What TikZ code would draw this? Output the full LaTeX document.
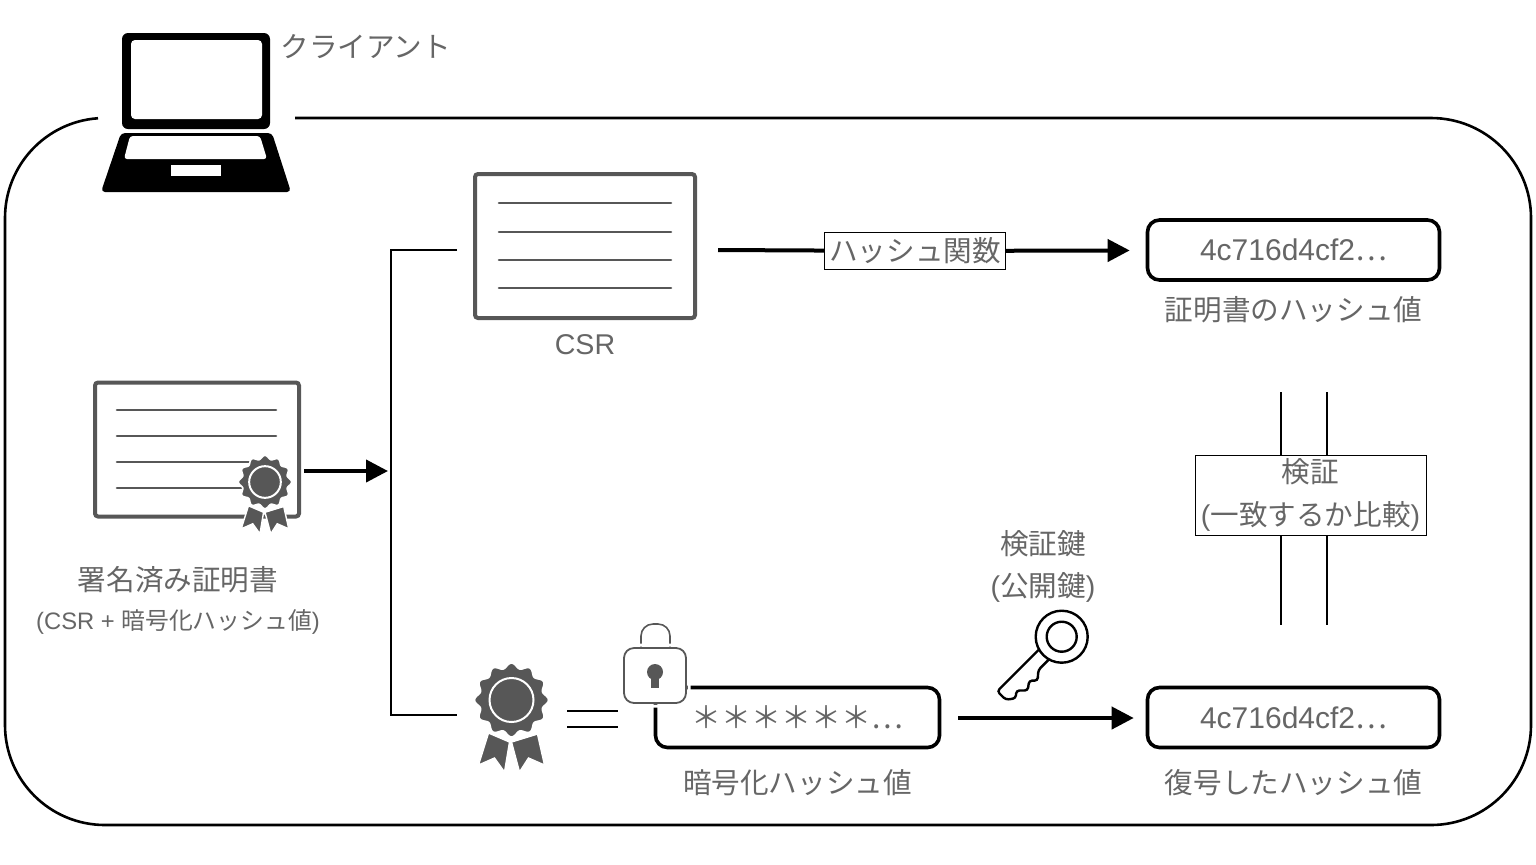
\documentclass[tikz,border=0pt]{standalone}
\usepackage{fontspec}
\setmainfont{Liberation Sans}
\newfontfamily\cjk{Noto Sans CJK JP}
\newcommand{\ja}[1]{{\cjk #1}}
\usepackage{xcolor}
\usepackage{tikz}
\usetikzlibrary{positioning,arrows.meta}
\definecolor{labelgray}{gray}{0.4}
\definecolor{icongray}{gray}{0.34}

% rosette, origin at the centre of the seal
\tikzset{sealicon/.pic={
    \fill[icongray, draw=white, line width=0.7pt] (-23,33) -- (-2,42) -- (-7,72) -- (-17,58) -- (-33,65) -- cycle;
    \fill[icongray, draw=white, line width=0.7pt] (26,34) -- (0,42) -- (8,72) -- (17,58) -- (33,65) -- cycle;
    \fill[icongray, draw=white, line width=0.8pt] plot[domain=0:360, samples=121] ({(34.5+2.5*cos(12*\x))*cos(\x)}, {(34.5+2.5*cos(12*\x))*sin(\x)}) -- cycle;
    \draw[white, line width=1pt] (0,0) circle [radius=22];
}}

\begin{document}
\begin{tikzpicture}[x=0.5pt, y=-0.5pt, >={Triangle[length=11pt,width=11pt]}]
    \tikzstyle{frame} = [black, line width=1.3pt]
    \tikzstyle{doc} = [draw=icongray, fill=white, line width=2pt, rounded corners=1.5pt]
    \tikzstyle{docline} = [icongray, line width=1.3pt, line cap=round]
    \tikzstyle{hashbox} = [draw, fill=white, line width=1.8pt, rounded corners=6pt, minimum width=146pt, minimum height=30pt, text=labelgray, font=\fontsize{15}{18}\selectfont]
    \tikzstyle{caption} = [text=labelgray, inner sep=0pt, font=\fontsize{14.3}{17}\selectfont]
    \tikzstyle{arrow} = [->, line width=2pt]
    \tikzstyle{bracket} = [black, line width=1.1pt]
    \tikzstyle{tag} = [draw, fill=white, line width=0.5pt, text=labelgray, inner sep=0pt, align=center, font=\fontsize{14.3}{21.5}\selectfont]

    % outer frame, open behind the laptop
    \coordinate (framestart) at (295,118);
    \draw[frame] (framestart) -- (1431,118) arc [start angle=-90, end angle=0, radius=100]
        -- (1531,725) arc [start angle=0, end angle=90, radius=100]
        -- (105,825) arc [start angle=90, end angle=180, radius=100]
        -- (5,218) arc [start angle=180, end angle=266, radius=100];

    % laptop
    \fill[black, rounded corners=3pt] (122,33) rectangle (270,129);
    \fill[white, rounded corners=2pt] (131,40) rectangle (262,119);
    \fill[black, rounded corners=2pt] (121,133) -- (272,133) -- (291,192) -- (101,192) -- cycle;
    \fill[white, rounded corners=1.5pt] (130,136) -- (260,136) -- (267,159) -- (124,159) -- cycle;
    \fill[white] (171,165) rectangle (221,176);
    \node[caption, anchor=west] (client) at (280,47) {\ja{クライアント}};

    % signed certificate
    \node[doc, minimum width=102pt, minimum height=67pt] (cert) at (197,449.5) {};
    \foreach \y in {410,436,462,488} \draw[docline] (117,\y) -- (276,\y);
    \pic[scale=0.72] at (265,482) {sealicon};
    \node[caption] (certname) at (178,580) {\ja{署名済み証明書}};
    \node[caption, font=\fontsize{11.9}{14}\selectfont] (certnote) at (178,622) {(CSR + \ja{暗号化ハッシュ値})};

    % CSR
    \node[doc, minimum width=110pt, minimum height=72pt] (csr) at (585,246) {};
    \foreach \y in {203,232,260,288} \draw[docline] (499,\y) -- (671,\y);
    \node[caption, below=7pt of csr] (csrname) {CSR};

    \node[hashbox] (hash) at (1293.5,250) {4c716d4cf2\ja{…}};
    \node[caption, below=7pt of hash] (hashname) {\ja{証明書のハッシュ値}};
    \node[draw, fill=white, line width=0.5pt, text=labelgray, inner sep=0pt, minimum width=90.5pt, minimum height=18.5pt, font=\fontsize{14.3}{17}\selectfont] (hashfn) at (915,251) {\ja{ハッシュ関数}};

    % seal = encrypted value
    \pic at (511.5,700) {sealicon};
    \draw[black, line width=1.2pt] (567,711) -- (618,711);
    \draw[black, line width=1.2pt] (567,727) -- (618,727);
    \node[hashbox, minimum width=142pt] (enc) at (797.5,717.5) {\ja{＊＊＊＊＊＊…}};
    \node[caption, below=10pt of enc] (encname) {\ja{暗号化ハッシュ値}};

    % lock
    \draw[icongray, line width=0.8pt, rounded corners=6pt] (641,650) -- (641,624) -- (670,624) -- (670,650);
    \draw[icongray, fill=white, line width=0.9pt, rounded corners=5pt] (624,648) rectangle (686,703);
    \draw[white, line width=1.5pt, rounded corners=6pt] (621,645) rectangle (689,706);
    \fill[icongray] (655,672) circle [radius=8];
    \fill[icongray] (651,672) rectangle (659,688);

    \node[hashbox] (dec) at (1293.5,717.5) {4c716d4cf2\ja{…}};
    \node[caption, below=10pt of dec] (decname) {\ja{復号したハッシュ値}};

    % key
    \begin{scope}[shift={(1061.7,636.7)}, x={(-0.354pt,-0.354pt)}, y={(0.354pt,-0.354pt)}]
        \draw[black, fill=white, line width=1.2pt, rounded corners=1.5pt] (20,-7) -- (84,-7) -- (84,5) -- (76,11) -- (70,6) -- (62,14) -- (54,8) -- (48,14) -- (40,7) -- (20,7) -- cycle;
    \end{scope}
    \draw[black, fill=white, line width=1.2pt] (1061.7,636.7) circle [radius=26];
    \draw[black, line width=1.2pt] (1061.7,636.7) circle [radius=15];
    \node[caption] (keyname) at (1043,544) {\ja{検証鍵}};
    \node[caption] (keynote) at (1043,587) {(\ja{公開鍵})};

    % verification
    \coordinate (railatop) at (1281,392);
    \coordinate (railabot) at (1281,625);
    \coordinate (railbtop) at (1327,392);
    \coordinate (railbbot) at (1327,625);
    \draw[bracket] (railatop) -- (railabot);
    \draw[bracket] (railbtop) -- (railbbot);
    \node[tag, minimum width=115.5pt, minimum height=40pt] (verify) at (1310.5,495) {\ja{検証}\\(\ja{一致するか比較})};

    % connectors
    \coordinate (trunk) at (391,471);
    \coordinate (certout) at (304,471);
    \coordinate (brtop) at (457,250);
    \coordinate (brbot) at (457,715);
    \coordinate (csrout) at (718,250);
    \coordinate (encout) at (958,718);
    \draw[arrow, shorten >=1.5pt] (certout) -- (trunk);
    \draw[bracket] (brtop) -| (trunk) |- (brbot);
    \draw[line width=2pt] (csrout) -- (hashfn);
    \draw[arrow, shorten >=8pt] (hashfn) -- (hash);
    \draw[arrow, shorten >=6pt] (encout) -- (dec.west |- encout);

    \useasboundingbox (0,0) rectangle (1536,864);
\end{tikzpicture}
\end{document}
